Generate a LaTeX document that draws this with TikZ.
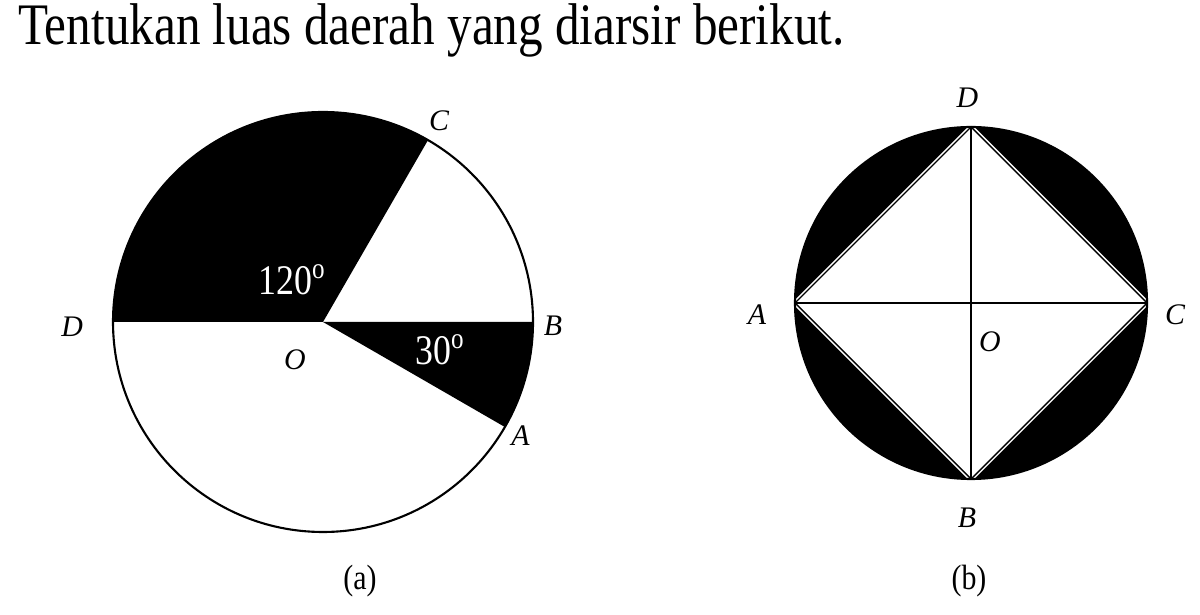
\documentclass[tikz,border=0pt]{standalone}
\usepackage{fontspec}
\setmainfont{Liberation Serif}
\newfontfamily\narrowserif[FakeStretch=0.85]{Liberation Serif}
\newfontfamily\titleserif[FakeStretch=0.835]{Liberation Serif}
\usetikzlibrary{positioning}

\tikzset{
    point/.style={font=\fontsize{17}{18}\selectfont\itshape},
    angletext/.style={text=white, font=\fontsize{24}{26}\selectfont\narrowserif},
    caption/.style={font=\fontsize{20}{22}\selectfont\narrowserif}
}

\begin{document}
\begin{tikzpicture}[x=0.02cm, y=0.02cm, every node/.style={inner sep=0pt}]
    \useasboundingbox (0,0) rectangle (1200,615);
    % Title
    \node[anchor=base west, font=\fontsize{33.5}{36}\selectfont\titleserif] (title) at (18,570) {Tentukan luas daerah yang diarsir berikut.};

    % (a) Centre and points
    \coordinate (Oa) at (323,293);
    \coordinate (Aa) at ([shift={(-30:210)}]Oa);
    \coordinate (Ba) at ([shift={(0:210)}]Oa);
    \coordinate (Ca) at ([shift={(60:210)}]Oa);
    \coordinate (Da) at ([shift={(180:210)}]Oa);
    % Shaded sectors
    \fill (Oa) -- (Ca) arc[start angle=60, end angle=180, radius=210] -- cycle;
    \fill (Oa) -- (Aa) arc[start angle=-30, end angle=0, radius=210] -- cycle;
    % Circle
    \draw[line width=1.2pt] (Oa) circle[radius=210];
    % Labels
    \node[point] (labCa) at ([shift={(60:232)}]Oa) {C};
    \node[point] (labDa) at ([shift={(181:251)}]Oa) {D};
    \node[point] (labBa) at ([shift={(-1:230)}]Oa) {B};
    \node[point] (labAa) at ([shift={(-30:228)}]Oa) {A};
    \node[point] (labOa) at (295,255) {O};
    \node[angletext] (big) at (292,335) {120\textsuperscript{o}};
    \node[angletext] (small) at (440,265) {30\textsuperscript{o}};
    \node[caption] (capa) at (360,34) {(a)};

    % (b) Centre and points
    \coordinate (Ob) at (971,312);
    \coordinate (Ab) at ([shift={(180:176)}]Ob);
    \coordinate (Bb) at ([shift={(270:176)}]Ob);
    \coordinate (Cb) at ([shift={(0:176)}]Ob);
    \coordinate (Db) at ([shift={(90:176)}]Ob);
    % Shaded segments
    \fill (Ob) circle[radius=176];
    \draw[white, fill=white, line width=2.6pt] (Ab) -- (Db) -- (Cb) -- (Bb) -- cycle;
    \draw[line width=0.8pt] (Ab) -- (Db) -- (Cb) -- (Bb) -- cycle;
    % Diagonals
    \draw[line width=0.6pt] (Ab) -- (Cb);
    \draw[line width=0.6pt] (Db) -- (Bb);
    % Circle
    \draw[line width=1.2pt] (Ob) circle[radius=176];
    % Labels
    \node[point] (labDb) at ([shift={(91:205)}]Ob) {D};
    \node[point] (labAb) at (757,300) {A};
    \node[point] (labCb) at (1175,300) {C};
    \node[point] (labBb) at (967,97) {B};
    \node[point] (labOb) at (990,273) {O};
    \node[caption] (capb) at (969,34) {(b)};
\end{tikzpicture}
\end{document}
